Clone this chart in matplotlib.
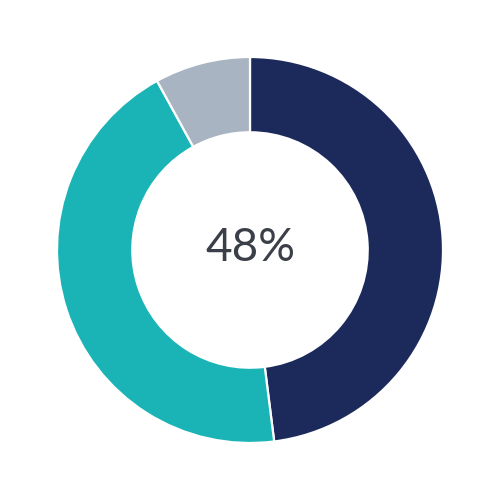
import matplotlib
matplotlib.use("Agg")
import matplotlib.pyplot as plt

labels = ["A", "B", "C"]
values = [48, 44, 8]
colors = ["#1b2a5a", "#1ab4b7", "#a9b4c2"]
center_text = "48%"

fig = plt.figure(figsize=(5, 5), dpi=100)
ax = fig.add_axes([0, 0, 1, 1])
ax.pie(values, colors=colors, startangle=90, counterclock=False, radius=1.0,
       wedgeprops=dict(width=0.39, edgecolor="white", linewidth=1.6))
lim = 250 / 193
ax.set_xlim(-lim, lim)
ax.set_ylim(-lim, lim)
ax.set_aspect("equal")
ax.axis("off")
ax.text(0, 0.01, center_text, ha="center", va="center", fontsize=33,
        family=["Lato", "DejaVu Sans"], fontweight="normal", color="#3b3f48")
fig.savefig("out.png", dpi=100, facecolor="white")
